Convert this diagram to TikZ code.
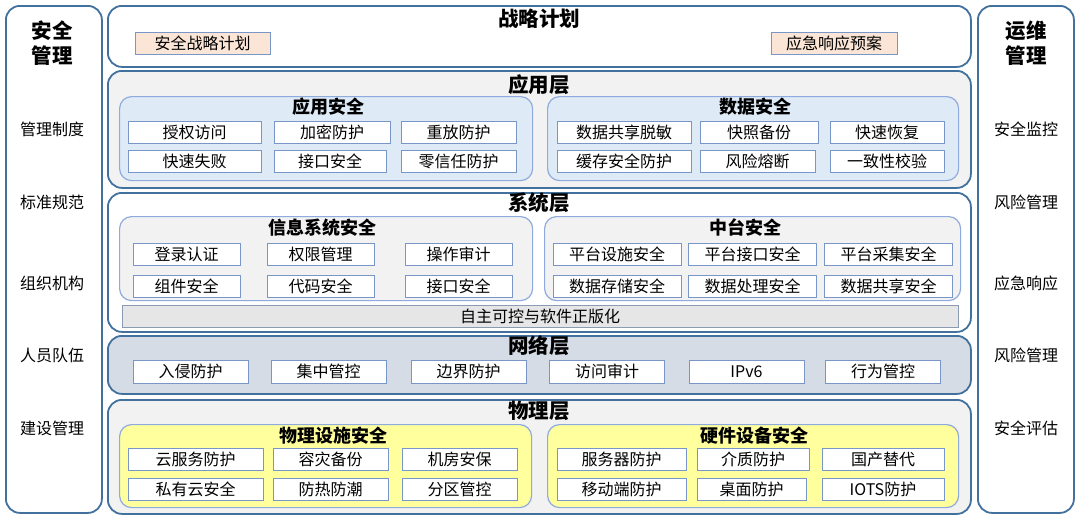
\documentclass[tikz,border=0pt]{standalone}
\usepackage{fontspec}
\setmainfont{Noto Sans CJK SC}
\definecolor{layerline}{RGB}{65,113,156}
\definecolor{panelline}{RGB}{143,170,220}
\definecolor{itemline}{RGB}{120,150,200}
\definecolor{barline}{RGB}{140,155,180}
\definecolor{lightbg}{RGB}{242,242,242}
\definecolor{bluebg}{RGB}{222,235,247}
\definecolor{netbg}{RGB}{214,220,229}
\definecolor{yellowbg}{RGB}{255,255,158}
\definecolor{peach}{RGB}{251,229,214}
\definecolor{barbg}{RGB}{230,230,230}
\begin{document}
\begin{tikzpicture}[x=1pt, y=-1pt,
	layer/.style={draw=layerline, line width=1.8pt, rounded corners=14pt, anchor=north west, inner sep=0pt},
	panel/.style={draw=panelline, line width=1.2pt, rounded corners=12pt, anchor=north west, inner sep=0pt},
	item/.style={draw=itemline, fill=white, line width=0.9pt, minimum height=22pt, inner sep=0pt, font=\fontsize{16}{16}\selectfont},
	ltitle/.style={font=\bfseries\fontsize{20.5}{20.5}\selectfont, inner sep=0pt},
	ptitle/.style={font=\bfseries\fontsize{18}{18}\selectfont, inner sep=0pt},
	sidetext/.style={font=\fontsize{16}{16}\selectfont, inner sep=0pt}]
	\useasboundingbox (0,0) rectangle (1080,517);
	
	% 1. 两侧管理栏
	\node[layer, fill=white, minimum width=96pt, minimum height=507pt] (left) at (5,5) {};
	\node[ltitle, align=center, font=\bfseries\fontsize{20.5}{25}\selectfont] (leftT) at (52,43) {安全\\管理};
	\foreach \t/\y [count=\i] in {管理制度/129, 标准规范/202, 组织机构/283, 人员队伍/355, 建设管理/428}
		\node[sidetext] (l\i) at (52,\y) {\t};
	\node[layer, fill=white, minimum width=96pt, minimum height=507pt] (right) at (977,5) {};
	\node[ltitle, align=center, font=\bfseries\fontsize{20.5}{25}\selectfont] (rightT) at (1026,43) {运维\\管理};
	\foreach \t/\y [count=\i] in {安全监控/129, 风险管理/202, 应急响应/283, 风险管理/355, 安全评估/428}
		\node[sidetext] (r\i) at (1026,\y) {\t};
	
	% 2. 战略计划
	\node[layer, fill=white, minimum width=863pt, minimum height=61pt] (plan) at (107,5) {};
	\node[ltitle] (planT) at (539,19) {战略计划};
	\node[item, fill=peach, minimum width=135pt] (plan1) at (202.5,43) {安全战略计划};
	\node[item, fill=peach, minimum width=126pt] (plan2) at (834,43) {应急响应预案};
	
	% 3. 应用层
	\node[layer, fill=lightbg, minimum width=863pt, minimum height=117pt] (app) at (107,70) {};
	\node[ltitle] (appT) at (539,85) {应用层};
	\node[panel, fill=bluebg, minimum width=413pt, minimum height=84pt] (appsec) at (119,96) {};
	\node[ptitle] (appsecT) at (328,107) {应用安全};
	\foreach \t/\x/\y/\w [count=\i] in {授权访问/194.5/132/133pt, 加密防护/332/132/116pt, 重放防护/458.5/132/115pt,
		快速失败/194.5/161.5/133pt, 接口安全/330/161.5/112pt, 零信任防护/458.5/161.5/115pt}
		\node[item, minimum width=\w] (a\i) at (\x,\y) {\t};
	\node[panel, fill=bluebg, minimum width=411pt, minimum height=84pt] (datasec) at (547,96) {};
	\node[ptitle] (datasecT) at (755,107) {数据安全};
	\foreach \t/\x/\y/\w [count=\i] in {数据共享脱敏/624/132/134pt, 快照备份/759/132/118pt, 快速恢复/887/132/114pt,
		缓存安全防护/624/161.5/134pt, 风险熔断/757.5/161.5/115pt, 一致性校验/887/161.5/114pt}
		\node[item, minimum width=\w] (d\i) at (\x,\y) {\t};
	
	% 4. 系统层
	\node[layer, fill=white, minimum width=863pt, minimum height=139pt] (sys) at (107,192) {};
	\node[ltitle] (sysT) at (539,203) {系统层};
	\node[panel, fill=lightbg, minimum width=413pt, minimum height=84pt] (infosec) at (119,216) {};
	\node[ptitle] (infosecT) at (322.5,228) {信息系统安全};
	\foreach \t/\x/\y [count=\i] in {登录认证/186.5/254, 权限管理/320.5/254, 操作审计/458.5/254,
		组件安全/186.5/286, 代码安全/320.5/286, 接口安全/458.5/286}
		\node[item, minimum width=107pt] (s\i) at (\x,\y) {\t};
	\node[panel, fill=lightbg, minimum width=416pt, minimum height=84pt] (midsec) at (544,216) {};
	\node[ptitle] (midsecT) at (745,228) {中台安全};
	\foreach \t/\x/\y [count=\i] in {平台设施安全/617/254, 平台接口安全/752.5/254, 平台采集安全/888.5/254,
		数据存储安全/617/286, 数据处理安全/752.5/286, 数据共享安全/888.5/286}
		\node[item, minimum width=128pt] (m\i) at (\x,\y) {\t};
	\node[item, fill=barbg, draw=barline, minimum width=836pt] (bar) at (540,316) {自主可控与软件正版化};
	
	% 5. 网络层
	\node[layer, fill=netbg, minimum width=863pt, minimum height=58pt] (net) at (107,335) {};
	\node[ltitle] (netT) at (539,346) {网络层};
	\foreach \t/\x [count=\i] in {入侵防护/190.5, 集中管控/328.5, 边界防护/468.5, 访问审计/607, IPv6/746.5, 行为管控/883}
		\node[item, minimum width=115pt, minimum height=23pt] (n\i) at (\x,371.5) {\t};
	
	% 6. 物理层
	\node[layer, fill=lightbg, minimum width=863pt, minimum height=114pt] (phy) at (107,399) {};
	\node[ltitle] (phyT) at (539,411) {物理层};
	\node[panel, fill=yellowbg, minimum width=412pt, minimum height=83pt] (facsec) at (119,424) {};
	\node[ptitle] (facsecT) at (333,436) {物理设施安全};
	\foreach \t/\x/\y/\w [count=\i] in {云服务防护/195.5/459.5/135pt, 容灾备份/330.5/459.5/115pt, 机房安保/459.5/459.5/115pt,
		私有云安全/195.5/489/135pt, 防热防潮/330.5/489/115pt, 分区管控/459.5/489/115pt}
		\node[item, minimum width=\w] (f\i) at (\x,\y) {\t};
	\node[panel, fill=yellowbg, minimum width=411pt, minimum height=83pt] (hwsec) at (547,424) {};
	\node[ptitle] (hwsecT) at (754,436) {硬件设备安全};
	\foreach \t/\x/\y/\w [count=\i] in {服务器防护/621.5/459.5/129pt, 介质防护/753/459.5/112pt, 国产替代/883/459.5/122pt,
		移动端防护/621.5/489/129pt, 桌面防护/751.5/489/109pt, IOTS防护/883/489/122pt}
		\node[item, minimum width=\w] (h\i) at (\x,\y) {\t};
\end{tikzpicture}
\end{document}
